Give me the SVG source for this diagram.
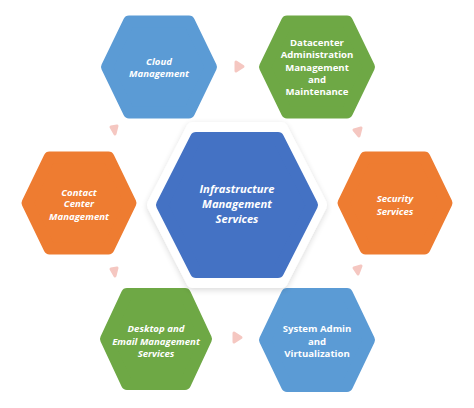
<svg xmlns="http://www.w3.org/2000/svg" width="474" height="408" viewBox="0 0 474 408">
<defs>
<style>
.hex{stroke-width:12;stroke-linejoin:round}
.blue{fill:#5b9bd5;stroke:#5b9bd5}
.green{fill:#6ea845;stroke:#6ea845}
.orange{fill:#ee7c31;stroke:#ee7c31}
.core{fill:#4472c4;stroke:#4472c4}
.t{font-family:"Open Sans",Lato,sans-serif;font-weight:bold;fill:#fff;text-anchor:middle;font-size:9.6px}
.i{font-style:italic}
.big{font-size:11.2px}
.arr{fill:#f5c7c1;stroke:#f5c7c1;stroke-width:3;stroke-linejoin:round}
</style>
<filter id="sh" x="-20%" y="-20%" width="140%" height="140%">
<feGaussianBlur in="SourceAlpha" stdDeviation="3"/>
<feOffset dy="2"/>
<feComponentTransfer><feFuncA type="linear" slope="0.15"/></feComponentTransfer>
<feMerge><feMergeNode/><feMergeNode in="SourceGraphic"/></feMerge>
</filter>
</defs>
<rect width="474" height="408" fill="#fff"/>
<g id="connectors">
<polygon class="arr" points="236,62 236,71 243,66.5"/>
<polygon class="arr" points="354,130 361,128 359,136"/>
<polygon class="arr" points="354,268 361,266 358,274"/>
<polygon class="arr" points="234,333 234,342 241,337.5"/>
<polygon class="arr" points="111,269 117,268 115,276"/>
<polygon class="arr" points="111,127 117,126 115,134"/>
</g>
<g id="cloud">
<polygon class="hex blue" points="107,67 129,21.5 189,21.5 211,67 189,112.5 129,112.5"/>
<text class="t i" x="159" y="64.5">Cloud</text>
<text class="t i" x="159" y="76.5">Management</text>
</g>
<g id="datacenter">
<polygon class="hex green" points="265,67 287,21.5 347,21.5 369,67 347,112.5 287,112.5"/>
<text class="t" x="317" y="45.5">Datacenter</text>
<text class="t" x="317" y="58">Administration</text>
<text class="t" x="317" y="70.5">Management</text>
<text class="t" x="317" y="83">and</text>
<text class="t" x="317" y="95">Maintenance</text>
</g>
<g id="contact">
<polygon class="hex orange" points="27.5,203 49.5,157.5 108.5,157.5 130.5,203 108.5,248.5 49.5,248.5"/>
<text class="t i" x="79" y="195.5">Contact</text>
<text class="t i" x="79" y="207">Center</text>
<text class="t i" x="79" y="219.5">Management</text>
</g>
<g id="security">
<polygon class="hex orange" points="343.5,203 365.5,157.5 424.5,157.5 446.5,203 424.5,248.5 365.5,248.5"/>
<text class="t i" x="395" y="201.5">Security</text>
<text class="t i" x="395" y="214.5">Services</text>
</g>
<g id="desktop">
<polygon class="hex green" points="106,339 127,294 185,294 206,339 185,384 127,384"/>
<text class="t i" x="156" y="331.5">Desktop and</text>
<text class="t i" x="156" y="344.5">Email Management</text>
<text class="t i" x="156" y="356.5">Services</text>
</g>
<g id="sysadmin">
<polygon class="hex blue" points="265,340 287,294 347,294 369,340 347,386 287,386"/>
<text class="t" x="317" y="331.5">System Admin</text>
<text class="t" x="317" y="344.5">and</text>
<text class="t" x="317" y="356.5">Virtualization</text>
</g>
<g id="core">
<polygon points="154,205 193,129 281,129 320,205 281,281 193,281" fill="#fff" stroke="#fff" stroke-width="14" stroke-linejoin="round" filter="url(#sh)"/>
<polygon class="hex core" points="162,205 196,138 278,138 312,205 278,272 196,272"/>
<text class="t i big" x="237" y="192.5">Infrastructure</text>
<text class="t i big" x="237" y="207.5">Management</text>
<text class="t i big" x="237" y="222.5">Services</text>
</g>
</svg>
